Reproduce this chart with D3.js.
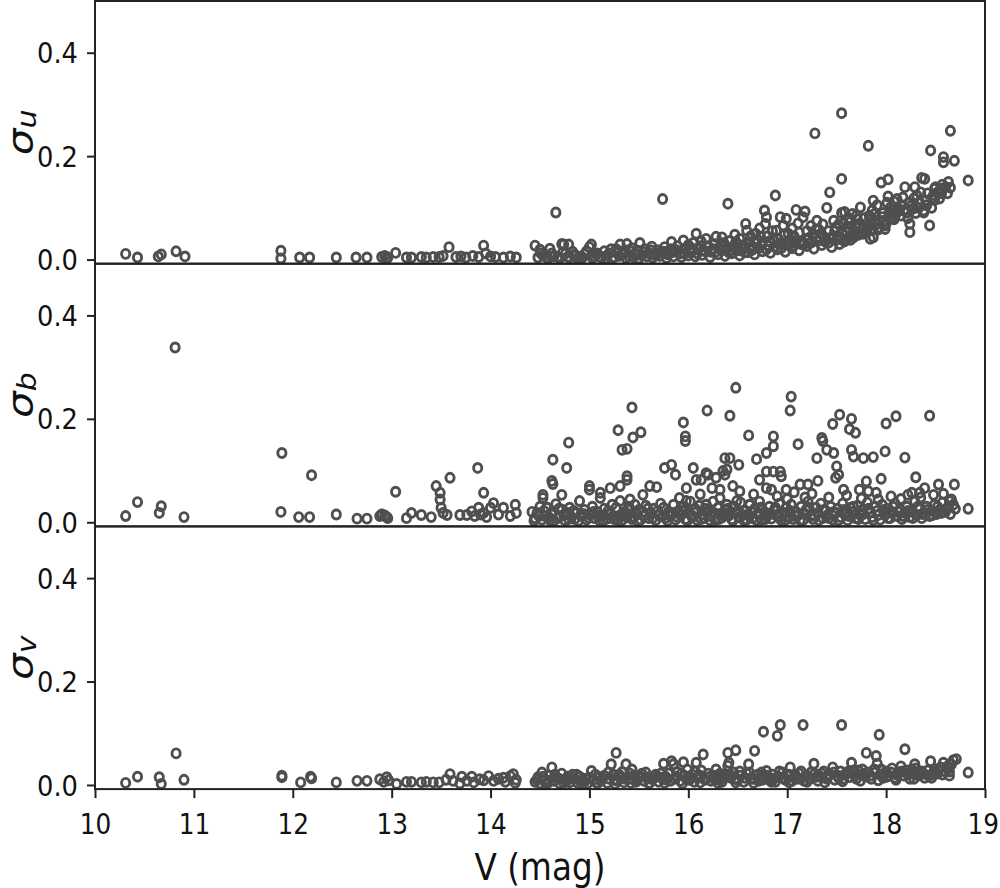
<!DOCTYPE html>
<html>
<head>
<meta charset="utf-8">
<script src="https://cdn.jsdelivr.net/npm/d3@7"></script>
<style>
  body { margin: 0; background: #fff; }
  svg { display: block; }
</style>
</head>
<body>
<svg id="chart" width="1000" height="888"></svg>
<script>
// ticks and labels
var xTicks = [10, 11, 12, 13, 14, 15, 16, 17, 18, 19]
var yTicks = [0.0, 0.2, 0.4]
var panelNames = ["u", "b", "v"]
var xTitle = "V (mag)"

// sigma_u  [V, sigma]
var uPoints = [
  [10.31,0.011],[10.43,0.004],[10.64,0.006],[10.67,0.010],[10.82,0.016],[10.91,0.006],
  [11.88,0.017],[11.88,0.002],[12.07,0.004],[12.17,0.004],[12.44,0.004],[12.64,0.004],[12.75,0.004],
  [12.90,0.005],[12.93,0.007],[12.96,0.004],[12.95,0.002],[13.04,0.013],[13.15,0.004],[13.20,0.004],
  [13.30,0.005],[13.35,0.004],[13.42,0.005],[13.48,0.005],[13.52,0.007],[13.58,0.024],[13.65,0.005],
  [13.70,0.006],[13.75,0.004],[13.82,0.007],[13.88,0.005],[13.93,0.027],[13.95,0.012],[14.00,0.006],
  [14.05,0.005],[14.13,0.004],[14.20,0.006],[14.26,0.004],
  [14.45,0.027],[14.50,0.019],[14.53,0.008],[14.57,0.004],[14.60,0.021],[14.62,0.012],[14.66,0.091],
  [14.68,0.005],[14.72,0.030],[14.74,0.029],[14.76,0.012],[14.79,0.029],[14.80,0.004],[14.83,0.015],
  [14.86,0.008],[14.90,0.005],[14.95,0.010],[15.00,0.024],[15.02,0.029],[15.05,0.006],[15.08,0.012],
  [15.12,0.004],[15.15,0.016],[15.18,0.008],[15.22,0.020],[15.25,0.005],[15.28,0.013],[15.31,0.029],
  [15.33,0.010],[15.36,0.018],[15.38,0.030],[15.40,0.006],[15.43,0.022],[15.46,0.012],[15.49,0.017],
  [15.51,0.032],[15.53,0.008],[15.56,0.020],[15.60,0.013],[15.63,0.025],[15.66,0.009],[15.69,0.018],
  [15.72,0.014],[15.74,0.117],[15.76,0.024],[15.79,0.010],[15.82,0.020],[15.83,0.034],[15.86,0.015],
  [15.89,0.026],[15.92,0.012],[15.95,0.037],[15.97,0.020],[16.00,0.028],[16.02,0.014],[16.05,0.032],
  [16.08,0.050],[16.10,0.022],[16.13,0.035],[16.15,0.018],[16.18,0.040],[16.20,0.026],[16.23,0.015],
  [16.26,0.030],[16.28,0.044],[16.31,0.022],[16.34,0.043],[16.36,0.032],[16.38,0.018],[16.40,0.108],
  [16.42,0.036],[16.45,0.025],[16.47,0.048],[16.50,0.030],[16.52,0.040],[16.55,0.020],[16.58,0.069],
  [16.59,0.056],[16.61,0.034],[16.63,0.045],[16.65,0.025],[16.68,0.050],[16.70,0.038],[16.72,0.060],
  [16.74,0.028],[16.77,0.095],[16.78,0.069],[16.79,0.082],[16.80,0.045],[16.82,0.035],[16.85,0.055],
  [16.88,0.124],[16.89,0.056],[16.91,0.040],[16.93,0.082],[16.95,0.030],[16.96,0.066],[16.99,0.079],
  [17.01,0.050],[17.03,0.038],[17.05,0.060],[17.07,0.045],[17.09,0.096],[17.11,0.070],[17.13,0.035],
  [17.16,0.082],[17.18,0.093],[17.20,0.055],[17.22,0.042],[17.24,0.065],[17.26,0.049],[17.28,0.244],
  [17.30,0.075],[17.32,0.058],[17.33,0.043],[17.36,0.068],[17.38,0.035],[17.40,0.100],[17.42,0.055],
  [17.43,0.130],[17.45,0.024],[17.47,0.075],[17.49,0.062],[17.51,0.045],[17.53,0.030],[17.55,0.090],
  [17.55,0.156],[17.55,0.283],[17.57,0.070],[17.58,0.092],[17.60,0.052],[17.62,0.080],[17.64,0.038],
  [17.66,0.088],[17.67,0.043],[17.69,0.065],[17.71,0.078],[17.74,0.101],[17.76,0.060],[17.77,0.050],
  [17.80,0.069],[17.82,0.220],[17.83,0.085],[17.84,0.040],[17.86,0.095],[17.87,0.114],[17.87,0.043],
  [17.89,0.075],[17.91,0.105],[17.93,0.075],[17.95,0.149],[17.97,0.090],[17.99,0.066],[17.99,0.059],
  [18.01,0.110],[18.02,0.155],[18.02,0.122],[18.04,0.100],[18.06,0.080],[18.08,0.112],[18.11,0.117],
  [18.13,0.095],[18.16,0.105],[18.19,0.140],[18.21,0.091],[18.24,0.069],[18.24,0.053],[18.27,0.098],
  [18.29,0.140],[18.31,0.101],[18.31,0.124],[18.34,0.110],[18.36,0.158],[18.38,0.091],[18.39,0.156],
  [18.41,0.105],[18.44,0.066],[18.45,0.211],[18.47,0.120],[18.49,0.137],[18.49,0.115],[18.52,0.130],
  [18.55,0.137],[18.58,0.198],[18.58,0.188],[18.60,0.140],[18.65,0.139],[18.65,0.249],[18.69,0.191],
  [18.83,0.153],
  [14.48,0.004],[14.58,0.002],[14.64,0.006],[14.70,0.003],[14.78,0.005],[14.88,0.002],[14.93,0.004],
  [15.03,0.003],[15.10,0.006],[15.17,0.002],[15.24,0.004],[15.30,0.007],[15.37,0.003],[15.44,0.005],
  [15.50,0.002],[15.58,0.006],[15.64,0.004],[15.71,0.007],[15.78,0.003],[15.85,0.006],[15.93,0.005],
  [16.00,0.008],[16.07,0.006],[16.14,0.009],[16.22,0.005],[16.30,0.010],[16.37,0.007],[16.44,0.012],
  [16.52,0.008],[16.60,0.014],[16.67,0.010],[16.75,0.016],[16.83,0.013],[16.90,0.020],[16.98,0.015],
  [17.05,0.022],[17.12,0.018],[17.20,0.026],[17.27,0.021],[17.35,0.028],[17.42,0.033],[17.50,0.038],
  [17.58,0.035],[17.65,0.045],[17.72,0.048],[17.79,0.055],[17.86,0.058],[17.93,0.062],[18.00,0.070],
  [18.08,0.078],[18.15,0.085],[18.22,0.080],[18.30,0.090],[18.38,0.095],[18.46,0.100],[18.54,0.118],
  [18.62,0.128],
  [16.05,0.018],[16.12,0.026],[16.25,0.020],[16.33,0.028],[16.43,0.018],[16.48,0.034],[16.56,0.028],
  [16.62,0.022],[16.69,0.032],[16.73,0.044],[16.81,0.026],[16.86,0.040],[16.92,0.030],[16.97,0.048],
  [17.02,0.028],[17.08,0.034],[17.12,0.052],[17.17,0.030],[17.21,0.040],[17.25,0.034],[17.29,0.058],
  [17.34,0.050],[17.37,0.044],[17.44,0.042],[17.48,0.055],[17.52,0.068],[17.56,0.050],[17.61,0.062],
  [17.63,0.072],[17.68,0.055],[17.70,0.085],[17.73,0.066],[17.78,0.080],[17.81,0.060],[17.85,0.070],
  [17.88,0.088],[17.92,0.058],[17.96,0.082],[18.03,0.090],[18.07,0.095],[18.12,0.100],[18.17,0.120],
  [18.23,0.110],[18.28,0.118],[18.35,0.130],[18.42,0.128],[18.50,0.140],[18.57,0.145],[18.63,0.150],
  [14.51,0.012],[14.61,0.006],[14.73,0.014],[14.84,0.009],[14.97,0.016],[15.07,0.010],[15.20,0.012],
  [15.27,0.020],[15.35,0.011],[15.42,0.016],[15.48,0.009],[15.55,0.014],[15.62,0.018],[15.68,0.010],
  [15.75,0.015],[15.81,0.012],[15.88,0.018],[15.96,0.012],[16.03,0.022],[16.09,0.012],[16.17,0.016],
  [16.27,0.014],[16.35,0.020],[16.41,0.014],[16.51,0.018],[16.57,0.014],[16.64,0.018],[16.71,0.022],
  [16.79,0.020],[16.87,0.025],[16.94,0.022],[17.00,0.030],[17.06,0.026],[17.14,0.030],[17.23,0.032],
  [17.31,0.036],[17.39,0.040],[17.46,0.044],[17.54,0.042],[17.60,0.040],[17.68,0.050],[17.75,0.052],
  [17.83,0.065],[17.90,0.068],[17.98,0.075],[18.05,0.085],[18.10,0.088],[18.18,0.095],[18.26,0.105],
  [18.33,0.100],[18.40,0.115],[18.48,0.125],[18.56,0.128]
]

// sigma_b  [V, sigma]
var bPoints = [
  [10.31,0.012],[10.43,0.039],[10.65,0.018],[10.67,0.031],[10.81,0.338],[10.90,0.010],
  [11.89,0.134],[11.88,0.020],[12.06,0.010],[12.17,0.010],[12.19,0.091],[12.44,0.015],[12.65,0.007],
  [12.75,0.007],[12.88,0.012],[12.90,0.015],[12.93,0.013],[12.95,0.010],[12.96,0.008],[13.04,0.059],
  [13.15,0.008],[13.20,0.018],[13.30,0.014],[13.40,0.010],[13.45,0.070],[13.49,0.057],[13.49,0.044],
  [13.50,0.028],[13.52,0.018],[13.56,0.014],[13.59,0.086],[13.69,0.014],[13.76,0.014],[13.81,0.021],
  [13.84,0.012],[13.87,0.105],[13.88,0.028],[13.90,0.015],[13.93,0.018],[13.93,0.057],[13.96,0.010],
  [14.00,0.028],[14.03,0.037],[14.08,0.015],[14.13,0.028],[14.20,0.012],[14.25,0.034],[14.26,0.018],
  [14.53,0.053],[14.53,0.047],[14.62,0.080],[14.63,0.074],[14.63,0.121],[14.72,0.053],[14.77,0.105],
  [14.79,0.154],[15.00,0.070],[15.00,0.063],[15.11,0.057],[15.11,0.047],[15.21,0.066],[15.29,0.178],
  [15.31,0.070],[15.33,0.140],[15.38,0.142],[15.38,0.089],[15.38,0.082],[15.43,0.222],[15.44,0.164],
  [15.52,0.174],[15.54,0.053],[15.61,0.070],[15.68,0.068],[15.76,0.105],[15.83,0.111],[15.87,0.092],
  [15.95,0.193],[15.97,0.166],[15.97,0.157],[15.98,0.066],[16.05,0.105],[16.08,0.082],[16.13,0.082],
  [16.18,0.095],[16.19,0.216],[16.20,0.092],[16.24,0.066],[16.28,0.086],[16.32,0.063],[16.35,0.099],
  [16.37,0.124],[16.37,0.092],[16.39,0.102],[16.42,0.124],[16.42,0.206],[16.45,0.070],[16.48,0.260],
  [16.51,0.111],[16.52,0.060],[16.61,0.168],[16.66,0.054],[16.69,0.122],[16.72,0.082],[16.79,0.134],
  [16.79,0.098],[16.79,0.066],[16.84,0.063],[16.86,0.166],[16.86,0.147],[16.86,0.098],[16.93,0.098],
  [16.94,0.089],[16.99,0.063],[17.03,0.216],[17.04,0.243],[17.11,0.151],[17.13,0.073],[17.21,0.073],
  [17.30,0.124],[17.31,0.080],[17.35,0.163],[17.36,0.157],[17.40,0.140],[17.46,0.190],[17.47,0.134],
  [17.49,0.086],[17.50,0.108],[17.52,0.092],[17.53,0.208],[17.57,0.063],[17.63,0.180],[17.65,0.200],
  [17.65,0.140],[17.67,0.127],[17.69,0.173],[17.73,0.063],[17.77,0.124],[17.80,0.079],[17.82,0.060],
  [17.87,0.126],[17.90,0.057],[17.95,0.084],[17.99,0.137],[18.00,0.191],[18.10,0.205],[18.19,0.125],
  [18.22,0.053],[18.26,0.057],[18.30,0.087],[18.34,0.057],[18.39,0.066],[18.44,0.206],[18.48,0.053],
  [18.53,0.073],[18.64,0.041],[18.69,0.073],[18.83,0.026],
  [14.57,0.028],[14.80,0.028],[14.90,0.041],[15.31,0.041],[15.41,0.044],[15.46,0.034],[15.91,0.047],
  [15.98,0.041],[16.12,0.054],[16.18,0.034],[16.32,0.047],[16.49,0.041],[16.62,0.034],
  [16.90,0.050],[17.00,0.045],[17.07,0.058],[17.18,0.048],[17.25,0.055],[17.42,0.048],[17.60,0.052],
  [17.75,0.046],[17.92,0.044],[18.05,0.050],[18.15,0.045],[18.35,0.048],[18.58,0.055],
  [14.42,0.020],[14.45,0.008],[14.47,0.018],[14.50,0.030],[14.52,0.005],[14.55,0.012],[14.57,0.028],
  [14.60,0.004],[14.62,0.015],[14.63,0.021],[14.66,0.035],[14.68,0.008],[14.70,0.012],[14.72,0.025],
  [14.75,0.004],[14.78,0.018],[14.82,0.010],[14.85,0.006],[14.87,0.018],[14.92,0.012],[14.95,0.024],
  [14.97,0.005],[15.00,0.015],[15.03,0.030],[15.05,0.008],[15.08,0.020],[15.10,0.004],[15.13,0.012],
  [15.15,0.026],[15.18,0.007],[15.20,0.016],[15.23,0.034],[15.25,0.006],[15.27,0.028],[15.30,0.012],
  [15.33,0.004],[15.36,0.020],[15.38,0.010],[15.40,0.030],[15.43,0.006],[15.48,0.015],[15.50,0.024],
  [15.52,0.005],[15.55,0.012],[15.57,0.032],[15.60,0.008],[15.62,0.018],[15.65,0.026],[15.67,0.004],
  [15.70,0.014],[15.72,0.036],[15.75,0.028],[15.77,0.008],[15.80,0.020],[15.82,0.012],[15.85,0.034],
  [15.87,0.005],[15.90,0.022],[15.92,0.014],[15.95,0.030],[15.97,0.006],[16.00,0.018],[16.02,0.040],
  [16.04,0.010],[16.07,0.026],[16.09,0.004],[16.11,0.032],[16.14,0.015],[16.16,0.008],[16.18,0.034],
  [16.20,0.022],[16.23,0.012],[16.25,0.040],[16.27,0.005],[16.30,0.028],[16.32,0.016],[16.34,0.009],
  [16.37,0.024],[16.39,0.034],[16.41,0.013],[16.44,0.006],[16.46,0.030],[16.48,0.019],[16.51,0.010],
  [16.53,0.038],[16.56,0.004],[16.58,0.022],[16.60,0.014],[16.62,0.034],[16.65,0.008],[16.67,0.026],
  [16.70,0.016],[16.72,0.040],[16.74,0.005],[16.77,0.020],[16.79,0.012],[16.82,0.030],[16.84,0.007],
  [16.87,0.024],[16.89,0.014],[16.92,0.036],[16.94,0.004],[16.97,0.018],[16.99,0.028],[17.02,0.010],
  [17.04,0.034],[17.06,0.006],[17.09,0.020],[17.11,0.014],[17.14,0.030],[17.16,0.004],[17.19,0.024],
  [17.21,0.040],[17.24,0.012],[17.26,0.006],[17.29,0.028],[17.31,0.018],[17.34,0.036],[17.36,0.008],
  [17.39,0.022],[17.41,0.014],[17.44,0.030],[17.46,0.005],[17.49,0.018],[17.51,0.026],[17.54,0.010],
  [17.56,0.036],[17.59,0.015],[17.61,0.004],[17.64,0.028],[17.66,0.020],[17.69,0.008],[17.71,0.032],
  [17.74,0.014],[17.76,0.024],[17.79,0.006],[17.81,0.038],[17.84,0.018],[17.86,0.010],[17.89,0.030],
  [17.91,0.022],[17.94,0.005],[17.96,0.034],[17.99,0.014],[18.01,0.026],[18.04,0.008],[18.06,0.018],
  [18.09,0.036],[18.11,0.012],[18.14,0.024],[18.16,0.006],[18.19,0.018],[18.21,0.030],[18.24,0.010],
  [18.26,0.020],[18.29,0.040],[18.31,0.014],[18.34,0.025],[18.36,0.008],[18.39,0.018],[18.41,0.030],
  [18.44,0.012],[18.46,0.022],[18.49,0.034],[18.51,0.016],[18.54,0.024],[18.57,0.038],[18.60,0.020],
  [18.63,0.030],[18.66,0.044],[18.70,0.026],
  [14.44,0.003],[14.49,0.012],[14.54,0.022],[14.59,0.010],[14.64,0.003],[14.69,0.026],[14.74,0.014],
  [14.79,0.006],[14.84,0.022],[14.89,0.003],[14.94,0.016],[14.99,0.009],[15.04,0.020],[15.09,0.012],
  [15.14,0.003],[15.19,0.022],[15.24,0.012],[15.29,0.004],[15.34,0.014],[15.39,0.024],[15.44,0.010],
  [15.49,0.003],[15.54,0.020],[15.59,0.026],[15.64,0.008],[15.69,0.022],[15.74,0.012],[15.79,0.003],
  [15.84,0.018],[15.89,0.010],[15.94,0.022],[15.99,0.003],[16.03,0.014],[16.08,0.020],[16.13,0.006],
  [16.17,0.026],[16.22,0.004],[16.26,0.018],[16.31,0.006],[16.36,0.014],[16.40,0.026],[16.45,0.003],
  [16.50,0.022],[16.55,0.014],[16.59,0.005],[16.64,0.020],[16.69,0.004],[16.73,0.028],[16.78,0.006],
  [16.83,0.016],[16.88,0.028],[16.93,0.010],[16.98,0.004],[17.03,0.022],[17.08,0.012],[17.13,0.004],
  [17.18,0.016],[17.22,0.028],[17.27,0.014],[17.32,0.004],[17.37,0.024],[17.42,0.008],[17.47,0.020],
  [17.52,0.004],[17.57,0.024],[17.62,0.012],[17.67,0.030],[17.72,0.006],[17.77,0.016],[17.82,0.026],
  [17.87,0.004],[17.92,0.014],[17.97,0.024],[18.02,0.008],[18.07,0.030],[18.12,0.020],[18.17,0.012],
  [18.22,0.022],[18.27,0.008],[18.32,0.030],[18.37,0.016],[18.42,0.024],[18.47,0.014],[18.52,0.030],
  [18.56,0.018],[18.61,0.026],[18.65,0.016],[18.68,0.034]
]

// sigma_v  [V, sigma]
var vPoints = [
  [10.31,0.004],[10.43,0.016],[10.65,0.015],[10.67,0.002],[10.82,0.061],[10.90,0.010],
  [11.89,0.018],[11.89,0.015],[12.08,0.005],[12.18,0.016],[12.19,0.013],[12.44,0.005],[12.65,0.008],
  [12.75,0.008],[12.88,0.011],[12.92,0.006],[12.95,0.015],[12.97,0.009],[13.05,0.002],[13.15,0.006],
  [13.20,0.006],[13.30,0.005],[13.35,0.006],[13.42,0.005],[13.48,0.005],[13.55,0.010],[13.59,0.021],
  [13.62,0.008],[13.69,0.003],[13.71,0.016],[13.76,0.008],[13.81,0.016],[13.83,0.005],[13.89,0.011],
  [13.93,0.009],[13.98,0.017],[14.03,0.008],[14.08,0.012],[14.13,0.014],[14.15,0.006],[14.20,0.017],
  [14.23,0.021],[14.25,0.004],[14.26,0.010],
  [14.45,0.006],[14.48,0.015],[14.50,0.003],[14.52,0.024],[14.55,0.010],[14.58,0.004],[14.60,0.018],
  [14.62,0.034],[14.64,0.008],[14.67,0.014],[14.70,0.003],[14.72,0.022],[14.75,0.010],[14.78,0.016],
  [14.80,0.005],[14.83,0.020],[14.85,0.012],[14.88,0.004],[14.90,0.016],[14.93,0.008],[14.96,0.012],
  [14.98,0.003],[15.02,0.027],[15.04,0.010],[15.07,0.005],[15.10,0.015],[15.12,0.008],[15.15,0.018],
  [15.18,0.004],[15.20,0.012],[15.22,0.040],[15.24,0.020],[15.27,0.062],[15.28,0.008],[15.31,0.015],
  [15.33,0.025],[15.35,0.005],[15.37,0.040],[15.40,0.012],[15.43,0.030],[15.45,0.018],[15.47,0.006],
  [15.50,0.014],[15.53,0.022],[15.55,0.008],[15.58,0.015],[15.61,0.004],[15.64,0.012],[15.67,0.020],
  [15.70,0.006],[15.73,0.014],[15.75,0.041],[15.78,0.010],[15.80,0.022],[15.83,0.046],[15.85,0.040],
  [15.86,0.012],[15.89,0.025],[15.92,0.008],[15.95,0.044],[15.96,0.018],[15.99,0.030],[16.01,0.010],
  [16.04,0.020],[16.06,0.006],[16.08,0.043],[16.10,0.015],[16.13,0.028],[16.15,0.059],[16.17,0.010],
  [16.20,0.022],[16.23,0.008],[16.26,0.018],[16.28,0.030],[16.31,0.012],[16.34,0.006],[16.37,0.020],
  [16.40,0.062],[16.40,0.037],[16.41,0.043],[16.43,0.014],[16.46,0.024],[16.48,0.067],[16.50,0.010],
  [16.53,0.018],[16.56,0.006],[16.59,0.022],[16.61,0.040],[16.63,0.012],[16.67,0.066],[16.68,0.018],
  [16.71,0.008],[16.74,0.024],[16.76,0.103],[16.77,0.014],[16.79,0.027],[16.82,0.010],[16.85,0.020],
  [16.88,0.006],[16.90,0.095],[16.91,0.016],[16.93,0.116],[16.95,0.024],[16.98,0.010],[17.00,0.018],
  [17.03,0.034],[17.05,0.008],[17.08,0.020],[17.11,0.012],[17.14,0.026],[17.16,0.116],[17.17,0.008],
  [17.20,0.018],[17.23,0.012],[17.27,0.041],[17.28,0.022],[17.31,0.008],[17.34,0.016],[17.37,0.026],
  [17.40,0.012],[17.43,0.020],[17.46,0.034],[17.48,0.010],[17.51,0.018],[17.54,0.026],[17.55,0.116],
  [17.57,0.012],[17.60,0.022],[17.63,0.015],[17.65,0.043],[17.67,0.028],[17.70,0.012],[17.73,0.020],
  [17.76,0.030],[17.79,0.016],[17.80,0.062],[17.82,0.024],[17.85,0.012],[17.88,0.030],[17.90,0.056],
  [17.91,0.041],[17.93,0.097],[17.94,0.020],[17.97,0.014],[18.00,0.026],[18.03,0.018],[18.06,0.032],
  [18.09,0.014],[18.12,0.024],[18.15,0.036],[18.18,0.018],[18.19,0.069],[18.21,0.028],[18.24,0.012],
  [18.27,0.022],[18.29,0.040],[18.30,0.032],[18.33,0.018],[18.36,0.026],[18.39,0.014],[18.42,0.028],
  [18.45,0.046],[18.46,0.020],[18.49,0.030],[18.52,0.022],[18.55,0.034],[18.58,0.043],[18.60,0.026],
  [18.62,0.036],[18.64,0.026],[18.66,0.040],[18.68,0.048],[18.71,0.050],[18.83,0.024],
  [14.56,0.002],[14.74,0.004],[14.92,0.002],[15.08,0.003],[15.26,0.002],[15.42,0.004],[15.60,0.003],
  [15.76,0.004],[15.94,0.003],[16.12,0.005],[16.30,0.004],[16.48,0.005],[16.66,0.004],[16.84,0.006],
  [17.02,0.005],[17.20,0.006],[17.38,0.005],[17.56,0.007],[17.74,0.008],[17.92,0.009],[18.10,0.010],
  [18.28,0.012],[18.46,0.014],[18.64,0.018],
  [14.47,0.010],[14.53,0.016],[14.59,0.008],[14.65,0.020],[14.69,0.012],[14.77,0.008],[14.82,0.014],
  [14.87,0.020],[14.95,0.006],[15.00,0.014],[15.06,0.020],[15.13,0.012],[15.19,0.024],[15.25,0.010],
  [15.30,0.020],[15.36,0.012],[15.41,0.022],[15.48,0.010],[15.52,0.016],[15.57,0.024],[15.62,0.012],
  [15.68,0.016],[15.72,0.022],[15.77,0.016],[15.82,0.008],[15.88,0.016],[15.93,0.022],[15.98,0.012],
  [16.03,0.014],[16.07,0.026],[16.12,0.018],[16.16,0.012],[16.22,0.016],[16.27,0.010],[16.32,0.022],
  [16.36,0.014],[16.42,0.020],[16.47,0.012],[16.52,0.026],[16.57,0.014],[16.62,0.024],[16.66,0.012],
  [16.70,0.020],[16.75,0.010],[16.80,0.018],[16.86,0.012],[16.92,0.026],[16.97,0.014],[17.02,0.020],
  [17.07,0.014],[17.12,0.022],[17.18,0.016],[17.24,0.024],[17.30,0.016],[17.35,0.022],[17.41,0.016],
  [17.47,0.024],[17.52,0.014],[17.58,0.020],[17.62,0.026],[17.68,0.018],[17.72,0.028],[17.78,0.022],
  [17.84,0.018],[17.89,0.024],[17.95,0.030],[18.01,0.016],[18.05,0.024],[18.11,0.020],[18.16,0.026],
  [18.22,0.020],[18.26,0.030],[18.32,0.024],[18.38,0.022],[18.43,0.018],[18.48,0.024],[18.53,0.028],
  [18.57,0.020],[18.63,0.032]
]

var allPanels = [uPoints, bPoints, vPoints]

var svg = d3.select("#chart")
var left = 95, right = 985
var panelTop = 1, panelH = 262.7
var inkColor = "#222"
var dotColor = "#4f4f4f"
var fontFam = "'DejaVu Sans', 'Liberation Sans', sans-serif"

var x = d3.scaleLinear().domain([10, 19]).range([left, right])

allPanels.forEach(function(points, i) {
  var top = panelTop + i * panelH
  var bottom = top + panelH
  var y = d3.scaleLinear().domain([-0.008, 0.5]).range([bottom, top])

  var g = svg.append("g")

  svg.append("clipPath").attr("id", "clip" + i)
    .append("rect")
    .attr("x", left).attr("y", top)
    .attr("width", right - left).attr("height", panelH)

  g.append("g")
    .attr("clip-path", "url(#clip" + i + ")")
    .selectAll("ellipse")
    .data(points)
    .enter()
    .append("ellipse")
    .attr("cx", d => x(d[0]))
    .attr("cy", d => y(d[1]))
    .attr("rx", 4.1)
    .attr("ry", 4.5)
    .style("fill", "none")
    .style("stroke", dotColor)
    .style("stroke-width", 2.9)

  // y axis
  var yAxis = g.append("g")
    .attr("transform", "translate(" + left + ",0)")
    .call(d3.axisLeft(y).tickValues(yTicks).tickSize(8).tickFormat(d3.format(".1f")))
  yAxis.select(".domain").remove()
  yAxis.selectAll(".tick line").style("stroke", inkColor).style("stroke-width", 2)
  yAxis.selectAll(".tick text")
    .attr("x", -18.5)
    .attr("dy", "0.36em")
    .attr("transform", "scale(0.92,1)")
    .style("font-family", fontFam)
    .style("font-size", "28px")
    .style("fill", "#111")

  // frame
  g.append("rect")
    .attr("x", left).attr("y", top)
    .attr("width", right - left).attr("height", panelH)
    .style("fill", "none")
    .style("stroke", inkColor)
    .style("stroke-width", 2)

  // sigma label
  var lab = g.append("text")
    .attr("transform", "translate(33," + ((top + bottom) / 2) + ") rotate(-90) scale(1,0.86)")
    .style("text-anchor", "middle")
    .style("font-family", fontFam)
    .style("font-style", "italic")
    .style("fill", "#111")
  lab.append("tspan").text("σ").style("font-size", "42px")
  lab.append("tspan").text(panelNames[i]).style("font-size", "30px").attr("dy", 3)

  if (i == 2) {
    var xAxis = g.append("g")
      .attr("transform", "translate(0," + bottom + ")")
      .call(d3.axisBottom(x).tickValues(xTicks).tickSize(9).tickFormat(d3.format("d")))
    xAxis.select(".domain").remove()
    xAxis.selectAll(".tick line").style("stroke", inkColor).style("stroke-width", 2)
    xAxis.selectAll(".tick text")
      .attr("y", 45)
      .attr("dy", 0)
      .attr("x", d => d == 19 ? -2.5 : 0)
      .attr("transform", "scale(0.9,1)")
      .style("font-family", fontFam)
      .style("font-size", "27.5px")
      .style("fill", "#111")

    svg.append("text")
      .attr("transform", "translate(" + ((left + right) / 2) + ",880) scale(0.86,1)")
      .style("text-anchor", "middle")
      .style("font-family", fontFam)
      .style("font-size", "38px")
      .style("fill", "#111")
      .text(xTitle)
  }
})
</script>
</body>
</html>
